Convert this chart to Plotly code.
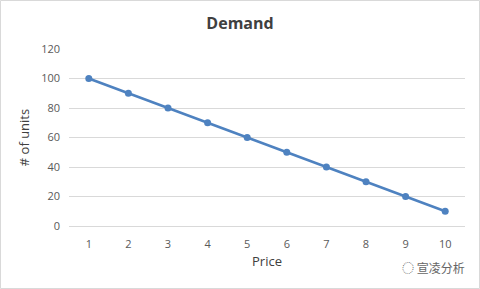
import plotly.graph_objects as go

price = [1, 2, 3, 4, 5, 6, 7, 8, 9, 10]
units = [100, 90, 80, 70, 60, 50, 40, 30, 20, 10]
y_ticks = [0, 20, 40, 60, 80, 100, 120]

fig = go.Figure()
fig.add_trace(go.Scatter(
    x=[str(p) for p in price], y=units, mode="lines+markers",
    line=dict(color="#4e82c0", width=2.5),
    marker=dict(color="#4e82c0", size=7),
    showlegend=False,
))

font = "Open Sans, Calibri, Liberation Sans, sans-serif"
fig.update_layout(
    width=480, height=289,
    margin=dict(l=69, r=15, t=49, b=63),
    paper_bgcolor="white", plot_bgcolor="white",
    title=dict(text="<b>Demand</b>", x=0.5, xanchor="center", y=1 - 23/289, yanchor="middle",
               font=dict(family=font, size=16, color="#404040")),
    font=dict(family=font, color="#595959"),
    xaxis=dict(type="category", range=[-0.5, 9.5], showgrid=False,
               showline=True, linecolor="#d9d9d9", linewidth=1,
               ticks="", tickfont=dict(size=11, color="#595959"), ticklabelstandoff=8,
               title=dict(text="Price", font=dict(size=13, color="#404040"), standoff=6),
               fixedrange=True),
    yaxis=dict(range=[0, 120], tickvals=y_ticks, showgrid=True, gridcolor="#d9d9d9", gridwidth=1,
               zeroline=False, showline=False, ticks="",
               tickfont=dict(size=11, color="#595959"), ticklabelstandoff=8,
               title=dict(text="# of units", font=dict(size=13, color="#404040"), standoff=8)),
)

# outer border
fig.add_shape(type="rect", xref="paper", yref="paper",
              x0=-68.5/396, x1=1 + 14.5/396, y0=-62.5/177, y1=1 + 48.5/177,
              line=dict(color="#d9d9d9", width=1), fillcolor="rgba(0,0,0,0)")

# watermark
fig.add_annotation(text="◌ 宣凌分析", xref="paper", yref="paper",
                   x=1 + 2/396, y=-41/177, xanchor="right", yanchor="middle", showarrow=False,
                   font=dict(family="Noto Sans CJK SC", size=12, color="#666666"))

fig.write_html("out.html")
